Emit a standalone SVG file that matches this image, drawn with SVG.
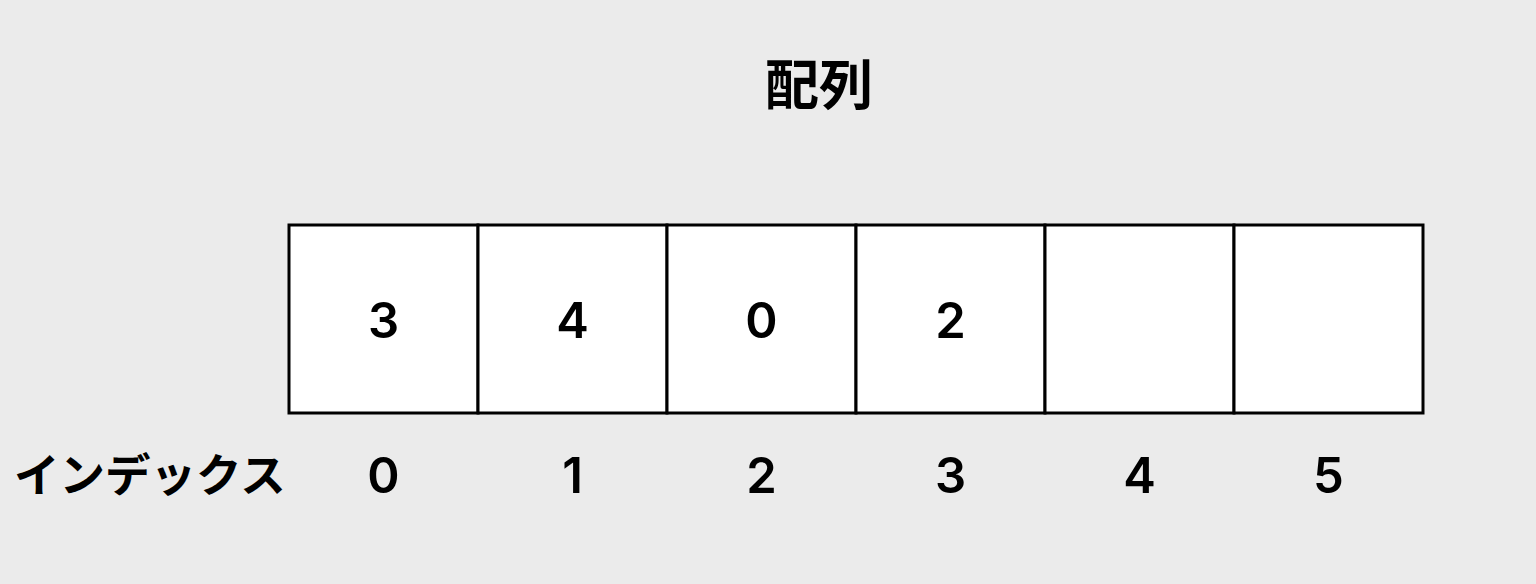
<svg xmlns="http://www.w3.org/2000/svg" width="1536" height="584" viewBox="0 0 1536 584">
<style>
.cell{fill:#ffffff;stroke:#000000;stroke-width:3}
.num{font-family:"Inter","Noto Sans",sans-serif;font-size:49px;font-weight:600;fill:#000;text-anchor:middle}
.jp{font-family:"Noto Sans CJK JP",sans-serif;fill:#000}
</style>
<rect width="1536" height="584" fill="#ebebeb"/>
<g id="title"><text class="jp" x="819" y="105" font-size="54" font-weight="bold" text-anchor="middle">配列</text></g>
<g id="cell0"><rect class="cell" x="289" y="225" width="189" height="188"/><text class="num" x="383.5" y="338">3</text></g>
<g id="cell1"><rect class="cell" x="478" y="225" width="189" height="188"/><text class="num" x="572.5" y="338">4</text></g>
<g id="cell2"><rect class="cell" x="667" y="225" width="189" height="188"/><text class="num" x="761.5" y="338">0</text></g>
<g id="cell3"><rect class="cell" x="856" y="225" width="189" height="188"/><text class="num" x="950.5" y="338">2</text></g>
<g id="cell4"><rect class="cell" x="1045" y="225" width="189" height="188"/></g>
<g id="cell5"><rect class="cell" x="1234" y="225" width="189" height="188"/></g>
<g id="index-label"><text class="jp" x="14" y="492" font-size="45.5" font-weight="bold">インデックス</text></g>
<g id="indices">
<text class="num" x="383.5" y="493">0</text>
<text class="num" x="572.5" y="493">1</text>
<text class="num" x="761.5" y="493">2</text>
<text class="num" x="950.5" y="493">3</text>
<text class="num" x="1139.5" y="493">4</text>
<text class="num" x="1328.5" y="493">5</text>
</g>
<g id="connectors"/>
</svg>
